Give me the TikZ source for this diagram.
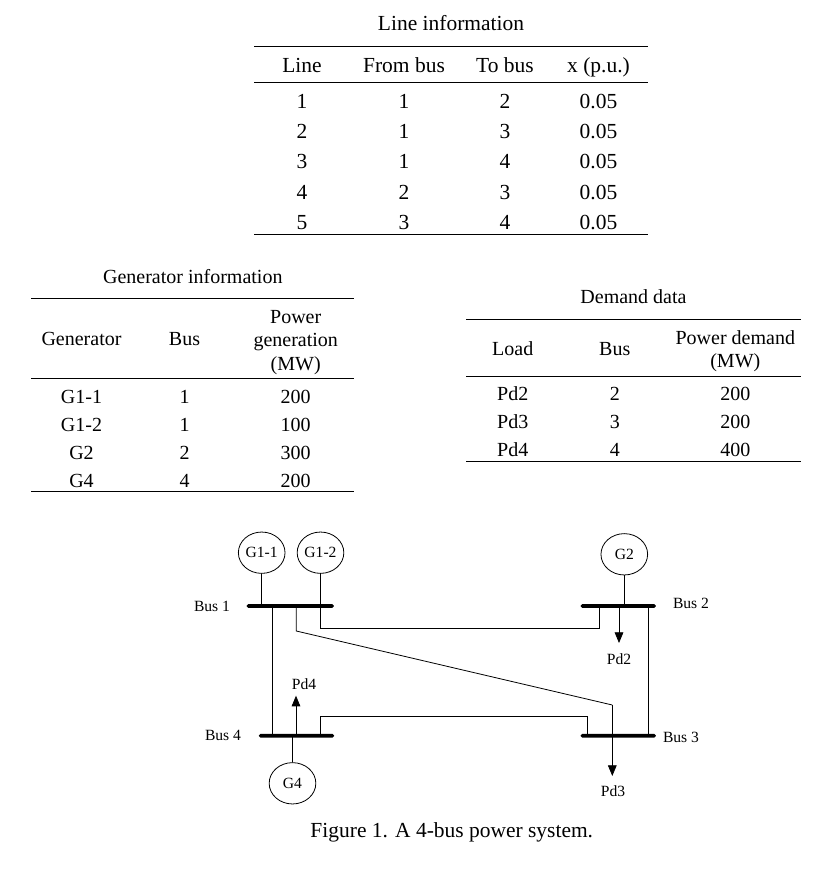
\documentclass[tikz,border=0pt]{standalone}
\usepackage{fontspec}
\setmainfont{Liberation Serif}
\usetikzlibrary{shapes.geometric}
\usetikzlibrary{arrows.meta}

\tikzset{
    bigtext/.style={inner sep=0pt,yshift=-0.75pt,text height=11pt,text depth=3.5pt,font=\fontsize{16.1}{18}\selectfont},
    midtext/.style={inner sep=0pt,yshift=-0.75pt,text height=10pt,text depth=3.2pt,font=\fontsize{15}{17}\selectfont},
    smalltext/.style={inner sep=0pt,yshift=-0.75pt,text height=8pt,text depth=2.5pt,font=\fontsize{11.7}{13}\selectfont},
    rulebar/.style={line width=0.65pt},
    wire/.style={line width=0.6pt},
    gen/.style={draw,line width=0.6pt,ellipse,inner sep=0pt,minimum width=35pt,minimum height=31pt,font=\fontsize{11.7}{13}\selectfont},
    busbar/.style={fill=black,rounded corners=1.2pt,inner sep=0pt,minimum height=2.7pt},
    load/.style={wire,-{Triangle[length=8pt,width=6.5pt]}}
}

\begin{document}
\begin{tikzpicture}[x=0.75pt,y=-0.75pt]
    \useasboundingbox (0,0) rectangle (838,870);

    %Line table
    \node[bigtext] (linetitle) at (451,25) {Line information};
    \coordinate (la) at (254,46); \coordinate (lb) at (648,46);
    \coordinate (lc) at (254,82); \coordinate (ld) at (648,82);
    \coordinate (le) at (254,234.5); \coordinate (lf) at (648,234.5);
    \draw[rulebar] (la) -- (lb);
    \draw[rulebar] (lc) -- (ld);
    \draw[rulebar] (le) -- (lf);
    \node[bigtext] (lh1) at (302,66.7) {Line};
    \node[bigtext] (lh2) at (404,66.7) {From bus};
    \node[bigtext] (lh3) at (505,66.7) {To bus};
    \node[bigtext] (lh4) at (598.5,66.7) {x (p.u.)};
    \foreach \y/\a/\b [count=\r] in {102.7/1/2,132.7/1/3,162.7/1/4,193.2/2/3,223.2/3/4}{
        \node[bigtext] (lr\r a) at (302,\y) {\r};
        \node[bigtext] (lr\r b) at (404,\y) {\a};
        \node[bigtext] (lr\r c) at (505,\y) {\b};
        \node[bigtext] (lr\r d) at (598.5,\y) {0.05};
    }

    %Generator table
    \node[midtext] (gentitle) at (192.8,277.5) {Generator information};
    \coordinate (ga) at (31,298); \coordinate (gb) at (354,298);
    \coordinate (gc) at (31,378.3); \coordinate (gd) at (354,378.3);
    \coordinate (ge) at (31,491.5); \coordinate (gf) at (354,491.5);
    \draw[rulebar] (ga) -- (gb);
    \draw[rulebar] (gc) -- (gd);
    \draw[rulebar] (ge) -- (gf);
    \node[midtext] (gh1) at (81.5,340.3) {Generator};
    \node[midtext] (gh2) at (184.5,340.3) {Bus};
    \node[midtext] (gh3) at (295.7,317.5) {Power};
    \node[midtext] (gh4) at (295.7,340.8) {generation};
    \node[midtext] (gh5) at (295.7,364.5) {(MW)};
    \foreach \y/\a/\b/\c [count=\r] in {397.8/G1-1/1/200,425.5/G1-2/1/100,453.8/G2/2/300,481.5/G4/4/200}{
        \node[midtext] (gr\r a) at (81.5,\y) {\a};
        \node[midtext] (gr\r b) at (184.5,\y) {\b};
        \node[midtext] (gr\r c) at (295.7,\y) {\c};
    }

    %Demand table
    \node[midtext] (demtitle) at (633.5,298.2) {Demand data};
    \coordinate (da) at (466,319.3); \coordinate (db) at (801,319.3);
    \coordinate (dc) at (466,376.7); \coordinate (dd) at (801,376.7);
    \coordinate (de) at (466,461.5); \coordinate (df) at (801,461.5);
    \draw[rulebar] (da) -- (db);
    \draw[rulebar] (dc) -- (dd);
    \draw[rulebar] (de) -- (df);
    \node[midtext] (dh1) at (512.7,350.2) {Load};
    \node[midtext] (dh2) at (614.8,350.2) {Bus};
    \node[midtext] (dh3) at (735.3,338.5) {Power demand};
    \node[midtext] (dh4) at (735.3,362.3) {(MW)};
    \foreach \y/\a/\b/\c [count=\r] in {395.2/Pd2/2/200,423.2/Pd3/3/200,451.2/Pd4/4/400}{
        \node[midtext] (dr\r a) at (512.7,\y) {\a};
        \node[midtext] (dr\r b) at (614.8,\y) {\b};
        \node[midtext] (dr\r c) at (735.3,\y) {\c};
    }

    %Buses
    \node[busbar,minimum width=65.5pt] (bus1) at (290.3,606) {};
    \node[busbar,minimum width=56.5pt] (bus4) at (296.5,735.7) {};
    \node[busbar,minimum width=56.5pt] (bus2) at (618.2,606) {};
    \node[busbar,minimum width=56.5pt] (bus3) at (618.2,735.7) {};
    \node[smalltext] (bus1label) at (212,607.3) {Bus 1};
    \node[smalltext] (bus4label) at (223,736.3) {Bus 4};
    \node[smalltext] (bus2label) at (691,603.6) {Bus 2};
    \node[smalltext] (bus3label) at (681,738.3) {Bus 3};

    %Generators
    \node[gen] (g11) at (261.7,552.7) {G1-1};
    \node[gen] (g12) at (320.5,552.7) {G1-2};
    \node[gen] (g2) at (624.3,554.3) {G2};
    \node[gen] (g4) at (292.5,783.3) {G4};

    %Loads
    \node[smalltext] (pd2) at (619,659.6) {Pd2};
    \node[smalltext] (pd3) at (613,792.3) {Pd3};
    \node[smalltext] (pd4) at (304,685.3) {Pd4};

    \coordinate (pd2top) at (619,606);
    \coordinate (pd2tip) at (619,643);
    \coordinate (pd3kink) at (612.3,705);
    \coordinate (pd3tip) at (612.3,776);
    \coordinate (pd4bot) at (296,735.7);
    \coordinate (pd4tip) at (296,695.7);

    \coordinate (b1b4) at (272,606);
    \coordinate (b4b1) at (272,735.7);
    \coordinate (b1b3) at (296.3,606);
    \coordinate (b1b2) at (320.5,606);
    \coordinate (b2b1) at (599.7,606);
    \coordinate (b2b3) at (648.7,606);
    \coordinate (b3b2) at (648.7,735.7);
    \coordinate (b4b3) at (320.5,735.7);
    \coordinate (b3b4) at (587.7,735.7);

    \draw[wire] (g11) -- (g11 |- bus1);
    \draw[wire] (g12) -- (b1b2);
    \draw[wire] (g2) -- (g2 |- bus2);
    \draw[wire] (g4) -- (g4 |- bus4);

    \draw[wire] (b1b4) -- (b4b1);
    \draw[wire] (b2b3) -- (b3b2);
    \draw[wire] (b1b2) -- ++(0,22) -| (b2b1);
    \draw[wire] (b4b3) -- ++(0,-19.4) -| (b3b4);
    \draw[wire] (b1b3) -- ++(0,25) -- (pd3kink);

    \draw[load] (pd3kink) -- (pd3tip);
    \draw[load] (pd2top) -- (pd2tip);
    \draw[load] (pd4bot) -- (pd4tip);

    \node[bigtext] (caption) at (451.8,831.7) {Figure 1. A 4-bus power system.};
\end{tikzpicture}
\end{document}
